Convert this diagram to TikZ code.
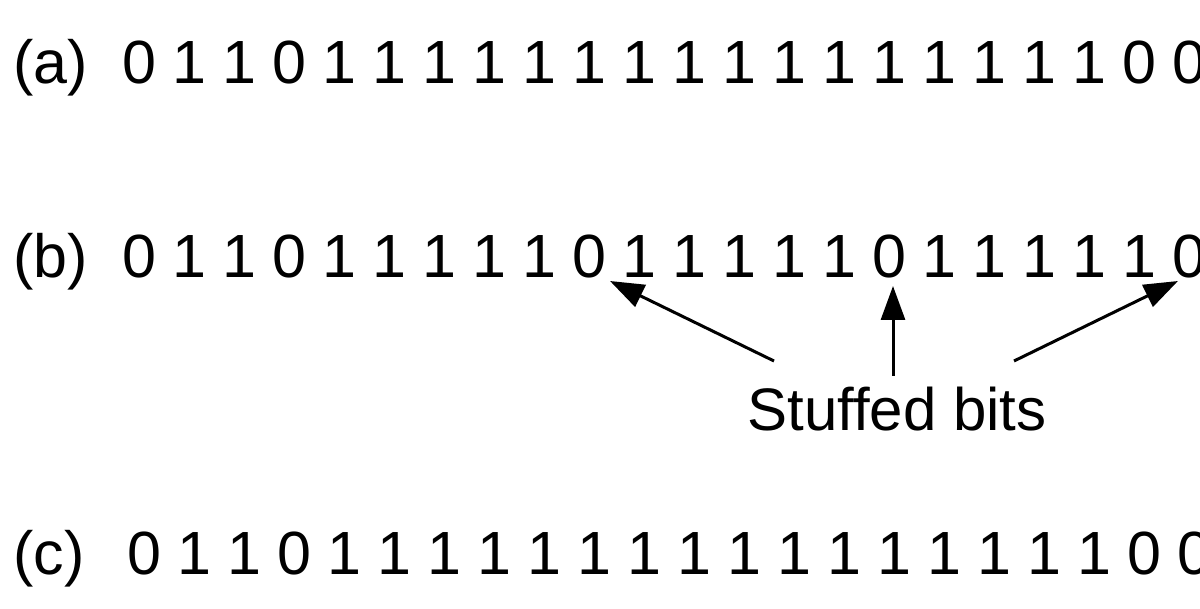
\documentclass[tikz,border=0pt]{standalone}
\usepackage{fontspec}
\setmainfont{Liberation Sans}
\usetikzlibrary{arrows.meta}
\begin{document}
\begin{tikzpicture}[x=1pt,y=-1pt,
  bit/.style={inner sep=0pt,anchor=base,font=\fontsize{61}{72}\selectfont},
  lab/.style={inner sep=0pt,anchor=base west,font=\fontsize{61}{72}\selectfont},
  arr/.style={line width=3pt,-{Triangle[length=34pt,width=24pt]}}]
\useasboundingbox (0,0) rectangle (1200,609);
\begin{scope}
\clip (0,0) rectangle (1200,609);
% row (a)
\node[lab] (la) at (13,84) {(a)};
\foreach \b [count=\i from 0] in {0,1,1,0,1,1,1,1,1,1,1,1,1,1,1,1,1,1,1,1,0,0}
  \node[bit] (a\i) at (139+50*\i,84) {\b};
% row (b)
\node[lab] (lb) at (13,278) {(b)};
\foreach \b [count=\i from 0] in {0,1,1,0,1,1,1,1,1,0,1,1,1,1,1,0,1,1,1,1,1,0}
  \node[bit] (b\i) at (139+50*\i,278) {\b};
% row (c)
\node[lab] (lc) at (13,574) {(c)};
\foreach \b [count=\i from 0] in {0,1,1,0,1,1,1,1,1,1,1,1,1,1,1,1,1,1,1,1,0,0}
  \node[bit] (c\i) at (144+50*\i,574) {\b};
\end{scope}
% label
\node[inner sep=0pt,anchor=base,font=\fontsize{60}{72}\selectfont] (sb) at (897,431) {Stuffed bits};
% arrow ends
\coordinate (t1) at (774,361);
\coordinate (h1) at (610,281);
\coordinate (t2) at (893,376);
\coordinate (h2) at (893,286);
\coordinate (t3) at (1014,361);
\coordinate (h3) at (1178,281);
\draw[arr] (t1) -- (h1);
\draw[arr] (t2) -- (h2);
\draw[arr] (t3) -- (h3);
\end{tikzpicture}
\end{document}
